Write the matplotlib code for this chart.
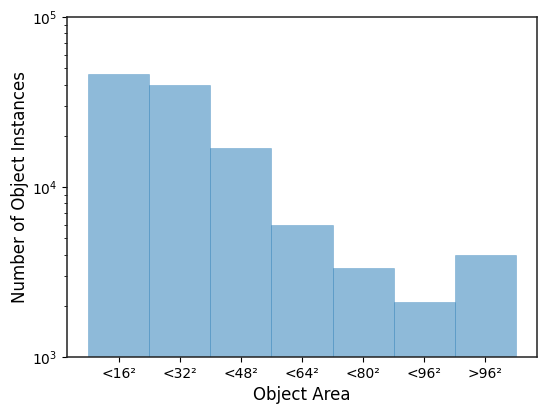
import matplotlib
matplotlib.use("Agg")
import matplotlib.pyplot as plt

categories = ["<16²", "<32²", "<48²", "<64²", "<80²", "<96²", ">96²"]
counts = [46200, 39800, 16900, 5970, 3340, 2110, 3980]

fig = plt.figure(figsize=(5.5, 4.09), dpi=100)
ax = fig.add_axes([67/550, 1 - 357/409, 470/550, 340/409])
x = list(range(len(categories)))
ax.bar(x, counts, width=1.0, color="#1f77b4", alpha=0.5, edgecolor="#1f77b4", linewidth=0.4)
ax.set_yscale("log")
ax.set_ylim(1e3, 1e5)
ax.set_xlim(-0.85, 6.85)
ax.set_xticks(x)
ax.set_xticklabels(categories, fontsize=10)
ax.tick_params(axis="y", labelsize=10)
for s in ax.spines.values():
    s.set_linewidth(1.1)
    s.set_color("#222222")
ax.set_xlabel("Object Area", fontsize=12)
ax.set_ylabel("Number of Object Instances", fontsize=12, labelpad=2)
fig.savefig("out.png", dpi=100)
